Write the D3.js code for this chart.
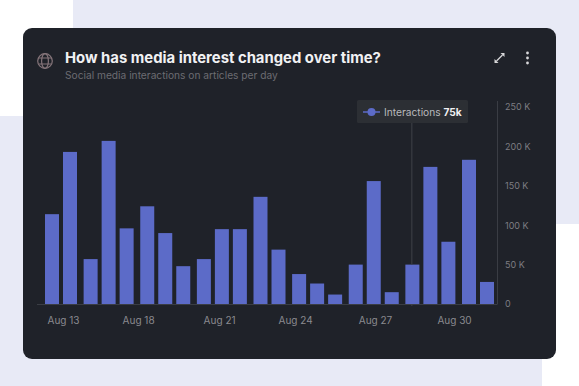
<!DOCTYPE html>
<html><head><meta charset="utf-8">
<script src="https://cdnjs.cloudflare.com/ajax/libs/d3/7.8.5/d3.min.js"></script>
<style>html,body{margin:0;padding:0;background:#fff;overflow:hidden}svg{display:block;font-family:Inter,"Noto Sans",sans-serif}</style>
</head><body><svg id="c" width="579" height="386"></svg>
<script>
const values = [114,193,57,207,96,124,90,48,57,95,95,136,69,38,26,12,50,156,15,50,174,79,183,28];
const groupSizes = [2,3,3,3,2,3,3,3,2];
const tickLabels = ["Aug 13","Aug 18","Aug 21","Aug 24","Aug 27","Aug 30"];
const tickSlots = [0.61,4.78,9.28,13.5,17.94,22.33];
const yTicks = [0,50,100,150,200,250];
const title = "How has media interest changed over time?";
const subtitle = "Social media interactions on articles per day";
const highlight = {index:19,label:"Interactions",text:"75k"};

const GAP = 0.145, BW = 14;
const slots = []; let n = 0;
groupSizes.forEach((s,g)=>{ for(let k=0;k<s;k++){ slots.push(n + g*GAP); n++; } });
const x = d3.scaleLinear().domain([0, slots[slots.length-1]]).range([52,487]);
const y = d3.scaleLinear().domain([0,250]).range([304,107]);
const svg = d3.select("#c");

svg.append("rect").attr("x",73).attr("y",-10).attr("width",520).attr("height",234).attr("rx",6).attr("fill","#e8eaf6");
svg.append("rect").attr("x",-10).attr("y",116).attr("width",552).attr("height",280).attr("rx",6).attr("fill","#e8eaf6");
svg.append("rect").attr("x",23).attr("y",28).attr("width",533).attr("height",331).attr("rx",9).attr("fill","#1f2229");

// header
svg.append("text").attr("x",65).attr("y",63).attr("font-size",14.85).attr("font-weight",700).attr("fill","#f1f1f3").text(title);
svg.append("text").attr("x",65).attr("y",79).attr("font-size",10.2).attr("fill","#6c6c72").text(subtitle);

// globe icon
const globe = svg.append("g").attr("transform","translate(45,61)").attr("fill","none").attr("stroke","#85757a").attr("stroke-width",1.2);
globe.append("circle").attr("r",7.3);
globe.append("ellipse").attr("rx",3.4).attr("ry",7.3);
globe.append("path").attr("d","M-6.4,-3H6.4M-6.4,3H6.4");

// expand icon
const exp = svg.append("g").attr("transform","translate(499.5,58)").attr("stroke","#d8d8da").attr("fill","#d8d8da");
exp.append("path").attr("d","M-3,3L3,-3").attr("stroke-width",1.3);
exp.append("path").attr("d","M1,-5H5V-1ZM-1,5H-5V1Z").attr("stroke","none");
// menu
svg.append("g").selectAll("circle").data([-5,0,5]).join("circle")
  .attr("cx",527.5).attr("cy",d=>58+d).attr("r",1.4).attr("fill","#d8d8da");

// bars
svg.append("g").selectAll("rect").data(values).join("rect")
  .attr("x",(d,i)=>x(slots[i])-BW/2).attr("width",BW)
  .attr("y",d=>y(d)).attr("height",d=>y(0)-y(d))
  .attr("fill","#5c6bc8");

// baseline and axis
svg.append("line").attr("x1",37).attr("x2",497).attr("y1",304.5).attr("y2",304.5).attr("stroke","#3a3d44");
const yAxis = d3.axisRight(y).tickValues(yTicks).tickSize(0).tickPadding(8).tickFormat(d=>d===0?"0":d+" K");
const ga = svg.append("g").attr("transform","translate(497,0)").call(yAxis);
ga.select(".domain").attr("stroke","#3a3d44").attr("d","M0.5,101V304.5");
ga.selectAll("text").attr("fill","#7d7d82").attr("font-size",9).attr("font-family","Inter,sans-serif");

// x labels
const xAxis = d3.axisBottom(x).tickValues(tickSlots).tickSize(0).tickPadding(13).tickFormat((d,i)=>tickLabels[i]);
const gx = svg.append("g").attr("transform","translate(0,304)").call(xAxis);
gx.select(".domain").remove();
gx.selectAll("text").attr("fill","#8a8a8f").attr("font-size",10).attr("font-family","Inter,sans-serif");

// crosshair + tooltip
const hx = x(slots[highlight.index]);
svg.append("line").attr("x1",hx-0.5).attr("x2",hx-0.5).attr("y1",122).attr("y2",y(values[highlight.index])).attr("stroke","#3f4249");
svg.append("line").attr("x1",hx-0.5).attr("x2",hx-0.5).attr("y1",y(0)).attr("y2",y(0)+2).attr("stroke","#3f4249");
svg.append("rect").attr("x",357).attr("y",100).attr("width",111).attr("height",23).attr("rx",1.5).attr("fill","#2c2f34");
svg.append("line").attr("x1",363).attr("x2",380).attr("y1",112).attr("y2",112).attr("stroke","#5c6bc8").attr("stroke-width",1.5);
svg.append("circle").attr("cx",371.5).attr("cy",112).attr("r",4).attr("fill","#5c6bc8");
const tt = svg.append("text").attr("x",384).attr("y",116).attr("font-size",10.2).attr("fill","#b9b9bd");
tt.append("tspan").text(highlight.label+" ");
tt.append("tspan").attr("font-weight",700).attr("fill","#f0f0f2").text(highlight.text);
</script></body></html>
